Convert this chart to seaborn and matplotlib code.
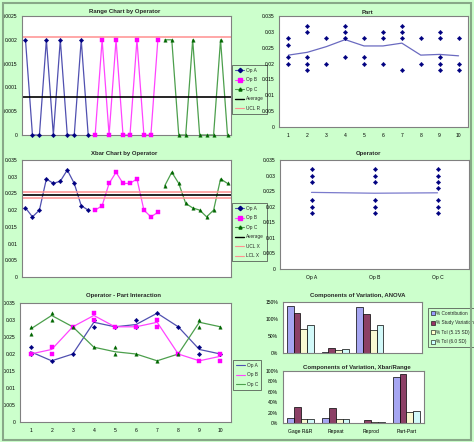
import numpy as np
import pandas as pd
import matplotlib
matplotlib.use("Agg")
import matplotlib.pyplot as plt
import seaborn as sns
from matplotlib.ticker import FuncFormatter, FixedLocator, NullFormatter
from matplotlib.lines import Line2D
from matplotlib.patches import Rectangle

# ---------------- data ----------------
parts = [1, 2, 3, 4, 5, 6, 7, 8, 9, 10]
operators = ["Op A", "Op B", "Op C"]

op_a_trial1 = [0.020, 0.018, 0.020, 0.030, 0.028, 0.028, 0.032, 0.028, 0.022, 0.020]
op_a_trial2 = [0.020, 0.018, 0.020, 0.030, 0.028, 0.028, 0.032, 0.028, 0.022, 0.020]
op_a_trial3 = [0.022, 0.018, 0.020, 0.028, 0.028, 0.030, 0.032, 0.028, 0.020, 0.020]
op_b_trial1 = [0.020, 0.022, 0.028, 0.032, 0.028, 0.028, 0.030, 0.020, 0.018, 0.020]
op_b_trial2 = [0.020, 0.022, 0.028, 0.032, 0.028, 0.028, 0.030, 0.020, 0.018, 0.020]
op_b_trial3 = [0.020, 0.020, 0.028, 0.030, 0.028, 0.028, 0.028, 0.020, 0.018, 0.018]
op_c_trial1 = [0.028, 0.032, 0.028, 0.022, 0.020, 0.020, 0.018, 0.020, 0.030, 0.028]
op_c_trial2 = [0.028, 0.032, 0.028, 0.022, 0.020, 0.020, 0.018, 0.020, 0.030, 0.028]
op_c_trial3 = [0.026, 0.030, 0.028, 0.022, 0.022, 0.020, 0.018, 0.020, 0.028, 0.028]

components = ["Gage R&R", "Repeat", "Reprod", "Part-Part"]
metrics = ["% Contribution", "% Study Variation", "% Tol (5.15 SD)", "% Tol (6.0 SD)"]
anova_contribution = [137, 2, 134]
anova_study_var = [118, 15, 116]
anova_tol_515 = [71, 10, 69]
anova_tol_60 = [83, 11, 81]
xr_contribution = [9, 9, 0.5, 88]
xr_study_var = [30, 29, 6, 94]
xr_tol_515 = [7, 7, 1, 22]
xr_tol_60 = [8, 8, 1, 24]

range_ylabels = ["0", "0.0005", "0.001", "0.0015", "0.002", "0.0025"]

# ---------------- style ----------------
sns.set_style("white")
plt.rcParams["font.family"] = ["Liberation Sans", "DejaVu Sans"]

BG = "#ccffcc"
W, H = 474, 442
fig = plt.figure(figsize=(W / 100, H / 100), dpi=100, facecolor=BG)

TICK_FS = 3.6
TITLE_FS = 4.3
LEG_FS = 3.4

line_col = {"Op A": "#5050b0", "Op B": "#ff44ff", "Op C": "#4c9f4c"}
mk_col = {"Op A": "#000080", "Op B": "#ff00ff", "Op C": "#006600"}
mk = {"Op A": "D", "Op B": "s", "Op C": "^"}
mk_s = {"Op A": 5, "Op B": 7, "Op C": 6}


def add_ax(l, t, r, b):
    ax = fig.add_axes([l / W, 1 - b / H, (r - l) / W, (b - t) / H])
    ax.set_facecolor("white")
    for s in ax.spines.values():
        s.set_color("#808080")
        s.set_linewidth(0.8)
    ax.tick_params(axis="both", labelsize=TICK_FS, length=2, width=0.5,
                   pad=1.5, direction="out", colors="black")
    ax.set_xlabel("")
    ax.set_ylabel("")
    return ax


def ftitle(x, y, s):
    fig.text(x / W, 1 - y / H, s, ha="center", va="center",
             fontsize=TITLE_FS, fontweight="bold")


def flegend(ax, handles, labels, x, y, **kw):
    leg = ax.legend(handles, labels, loc="upper left",
                    bbox_to_anchor=(x / W, 1 - y / H), bbox_transform=fig.transFigure,
                    fontsize=LEG_FS, frameon=True, fancybox=False,
                    borderpad=0.6, labelspacing=0.95, handletextpad=0.4,
                    borderaxespad=0, **kw)
    fr = leg.get_frame()
    fr.set_edgecolor("#404040")
    fr.set_linewidth(0.5)
    fr.set_facecolor(BG)
    fr.set_alpha(1)
    return leg


num_fmt = FuncFormatter(lambda v, p: "0" if abs(v) < 1e-12 else f"{v:g}")

# ---------------- derived tables ----------------
trials = {"Op A": [op_a_trial1, op_a_trial2, op_a_trial3],
          "Op B": [op_b_trial1, op_b_trial2, op_b_trial3],
          "Op C": [op_c_trial1, op_c_trial2, op_c_trial3]}
rows = []
for op in operators:
    for t, vals in enumerate(trials[op], 1):
        for p, v in zip(parts, vals):
            rows.append(dict(operator=op, part=p, trial=t, value=v))
meas = pd.DataFrame(rows)
meas["pidx"] = meas["part"] - 1
meas["oidx"] = meas["operator"].map({o: i for i, o in enumerate(operators)})

g = meas.groupby(["operator", "part"])["value"]
summ = pd.DataFrame({"xbar": g.mean(), "rng": g.max() - g.min()}).reset_index()
summ["oidx"] = summ["operator"].map({o: i for i, o in enumerate(operators)})
summ["idx"] = summ["oidx"] * 10 + summ["part"] - 1
summ["pidx"] = summ["part"] - 1

rbar = summ["rng"].mean()
ucl_r = 2.574 * rbar
xbarbar = summ["xbar"].mean()
ucl_x = xbarbar + 1.023 * rbar
lcl_x = xbarbar - 1.023 * rbar

op_handles = [Line2D([], [], color=line_col[o], lw=0.8, marker=mk[o],
                     markerfacecolor=mk_col[o], markeredgecolor=mk_col[o],
                     markersize=2.2) for o in operators]

# ---------------- P1 Range chart ----------------
ax1 = add_ax(22, 16, 231, 135)
for op in operators:
    d = summ[summ.operator == op]
    sns.lineplot(data=d, x="idx", y="rng", color=line_col[op], lw=0.9,
                 errorbar=None, ax=ax1, legend=False)
    sns.scatterplot(data=d, x="idx", y="rng", marker=mk[op], color=mk_col[op],
                    s=mk_s[op], edgecolor=mk_col[op], linewidth=0.3,
                    ax=ax1, legend=False, zorder=3, clip_on=False)
ax1.axhline(rbar, color="black", lw=1.2)
ax1.axhline(ucl_r, color="#ff9090", lw=1.1)
ax1.set_xlim(-0.5, 29.5)
ax1.set_ylim(0, 0.0025)
ax1.yaxis.set_major_locator(FixedLocator(np.arange(0, 0.00251, 0.0005)))
ax1.set_yticklabels(range_ylabels)
ax1.xaxis.set_major_locator(FixedLocator(np.arange(-0.5, 29.6, 1)))
ax1.xaxis.set_major_formatter(NullFormatter())
ax1.set_xlabel(""); ax1.set_ylabel("")
ftitle(125, 12, "Range Chart by Operator")
flegend(ax1, op_handles + [Line2D([], [], color="black", lw=1.0),
                           Line2D([], [], color="#ff9090", lw=0.8)],
        operators + ["Average", "UCL R"], 232, 65, handlelength=2.0)

# ---------------- P2 Part ----------------
ax2 = add_ax(279, 16, 468, 127)
pdots = meas.drop_duplicates(["part", "value"])
sns.scatterplot(data=pdots, x="pidx", y="value", marker="D", color="#000080",
                s=5, edgecolor="#000080", linewidth=0.3, ax=ax2, legend=False, zorder=3)
pmean = meas.groupby("pidx")["value"].mean().reset_index()
sns.lineplot(data=pmean, x="pidx", y="value", color="#6a6ac0", lw=0.9,
             errorbar=None, ax=ax2, legend=False)
ax2.set_xlim(-0.5, 9.5)
ax2.set_ylim(0, 0.035)
ax2.yaxis.set_major_locator(FixedLocator(np.arange(0, 0.0351, 0.005)))
ax2.yaxis.set_major_formatter(num_fmt)
ax2.xaxis.set_major_locator(FixedLocator(range(10)))
ax2.set_xticklabels([str(p) for p in parts])
ax2.xaxis.set_minor_locator(FixedLocator(np.arange(-0.5, 9.6, 1)))
ax2.tick_params(axis="x", which="major", length=0, pad=4)
ax2.tick_params(axis="x", which="minor", length=2, width=0.5)
ax2.set_xlabel(""); ax2.set_ylabel("")
ftitle(367, 12, "Part")

# ---------------- P3 Xbar chart ----------------
ax3 = add_ax(22, 160, 231, 277)
for op in operators:
    d = summ[summ.operator == op]
    sns.lineplot(data=d, x="idx", y="xbar", color=line_col[op], lw=0.9,
                 errorbar=None, ax=ax3, legend=False)
    sns.scatterplot(data=d, x="idx", y="xbar", marker=mk[op], color=mk_col[op],
                    s=mk_s[op], edgecolor=mk_col[op], linewidth=0.3,
                    ax=ax3, legend=False, zorder=3)
ax3.axhline(xbarbar, color="black", lw=1.2)
ax3.axhline(ucl_x, color="#ff9090", lw=1.1)
ax3.axhline(lcl_x, color="#ff9090", lw=1.1)
ax3.set_xlim(-0.5, 29.5)
ax3.set_ylim(0, 0.035)
ax3.yaxis.set_major_locator(FixedLocator(np.arange(0, 0.0351, 0.005)))
ax3.yaxis.set_major_formatter(num_fmt)
ax3.xaxis.set_major_locator(FixedLocator(np.arange(-0.5, 29.6, 1)))
ax3.xaxis.set_major_formatter(NullFormatter())
ax3.set_xlabel(""); ax3.set_ylabel("")
ftitle(124, 154, "Xbar Chart by Operator")
flegend(ax3, op_handles + [Line2D([], [], color="black", lw=1.0),
                           Line2D([], [], color="#ff9090", lw=0.8),
                           Line2D([], [], color="#ff9090", lw=0.8)],
        operators + ["Average", "UCL X", "LCL X"], 232, 203, handlelength=2.0)

# ---------------- P4 Operator ----------------
ax4 = add_ax(280, 160, 469, 269)
odots = meas.drop_duplicates(["operator", "value"])
sns.scatterplot(data=odots, x="oidx", y="value", marker="D", color="#000080",
                s=5, edgecolor="#000080", linewidth=0.3, ax=ax4, legend=False, zorder=3)
omean = meas.groupby("oidx")["value"].mean().reset_index()
sns.lineplot(data=omean, x="oidx", y="value", color="#7a7acc", lw=0.9,
             errorbar=None, ax=ax4, legend=False)
ax4.set_xlim(-0.5, 2.5)
ax4.set_ylim(0, 0.035)
ax4.yaxis.set_major_locator(FixedLocator(np.arange(0, 0.0351, 0.005)))
ax4.yaxis.set_major_formatter(num_fmt)
ax4.xaxis.set_major_locator(FixedLocator(range(3)))
ax4.set_xticklabels(operators)
ax4.xaxis.set_minor_locator(FixedLocator(np.arange(-0.5, 2.6, 1)))
ax4.tick_params(axis="x", which="major", length=0, pad=4)
ax4.tick_params(axis="x", which="minor", length=2, width=0.5)
ax4.set_xlabel(""); ax4.set_ylabel("")
ftitle(369, 154, "Operator")

# ---------------- P5 Interaction ----------------
ax5 = add_ax(20, 303, 231, 422)
for op in operators:
    d = summ[summ.operator == op]
    sns.lineplot(data=d, x="pidx", y="xbar", color=line_col[op], lw=0.9,
                 errorbar=None, ax=ax5, legend=False)
for op in operators:
    dd = meas[meas.operator == op].drop_duplicates(["part", "value"])
    sns.scatterplot(data=dd, x="pidx", y="value", marker=mk[op], color=mk_col[op],
                    s=mk_s[op], edgecolor=mk_col[op], linewidth=0.3,
                    ax=ax5, legend=False, zorder=3)
ax5.set_xlim(-0.5, 9.5)
ax5.set_ylim(0, 0.035)
ax5.yaxis.set_major_locator(FixedLocator(np.arange(0, 0.0351, 0.005)))
ax5.yaxis.set_major_formatter(num_fmt)
ax5.xaxis.set_major_locator(FixedLocator(range(10)))
ax5.set_xticklabels([str(p) for p in parts])
ax5.xaxis.set_minor_locator(FixedLocator(np.arange(-0.5, 9.6, 1)))
ax5.tick_params(axis="x", which="major", length=0, pad=4)
ax5.tick_params(axis="x", which="minor", length=2, width=0.5)
ax5.set_xlabel(""); ax5.set_ylabel("")
ftitle(123, 296, "Operator - Part Interaction")
flegend(ax5, [Line2D([], [], color=line_col[o], lw=0.8) for o in operators],
        operators, 233, 360, handlelength=2.0)

# ---------------- P6 / P7 bar charts ----------------
bar_cols = ["#9999ff", "#993366", "#ffffcc", "#ccffff"]


def bars_df(comps, series):
    rr = []
    for m, vals in zip(metrics, series):
        for c, v in zip(comps, vals):
            rr.append(dict(component=c, metric=m, value=v))
    return pd.DataFrame(rr)


ax6 = add_ax(283, 302, 422, 353)
df6 = bars_df(components[:3], [anova_contribution, anova_study_var, anova_tol_515, anova_tol_60])
sns.barplot(data=df6, x="component", y="value", hue="metric", order=components,
            hue_order=metrics, palette=bar_cols, edgecolor="black", linewidth=0.5,
            width=0.77, errorbar=None, ax=ax6, legend=False)
ax6.set_xlim(-0.5, 3.5)
ax6.set_ylim(0, 150)
ax6.yaxis.set_major_locator(FixedLocator([0, 50, 100, 150]))
ax6.yaxis.set_major_formatter(FuncFormatter(lambda v, p: f"{v:.0f}%"))
ax6.xaxis.set_major_locator(FixedLocator(np.arange(-0.5, 3.6, 1)))
ax6.xaxis.set_major_formatter(NullFormatter())
ax6.set_xlabel(""); ax6.set_ylabel("")
ftitle(358, 296, "Components of Variation, ANOVA")

ax7 = add_ax(283, 371, 424, 423)
df7 = bars_df(components, [xr_contribution, xr_study_var, xr_tol_515, xr_tol_60])
sns.barplot(data=df7, x="component", y="value", hue="metric", order=components,
            hue_order=metrics, palette=bar_cols, edgecolor="black", linewidth=0.5,
            width=0.77, errorbar=None, ax=ax7, legend=False)
ax7.set_xlim(-0.5, 3.5)
ax7.set_ylim(0, 100)
ax7.yaxis.set_major_locator(FixedLocator([0, 20, 40, 60, 80, 100]))
ax7.yaxis.set_major_formatter(FuncFormatter(lambda v, p: f"{v:.0f}%"))
ax7.xaxis.set_major_locator(FixedLocator(range(4)))
ax7.set_xticklabels(components)
ax7.xaxis.set_minor_locator(FixedLocator(np.arange(-0.5, 3.6, 1)))
ax7.tick_params(axis="x", which="major", length=0, pad=4)
ax7.tick_params(axis="x", which="minor", length=2, width=0.5)
ax7.set_xlabel(""); ax7.set_ylabel("")
ftitle(357, 367, "Components of Variation, Xbar/Range")

bar_handles = [Line2D([], [], ls="none", marker="s", markersize=2.6,
                      markerfacecolor=c, markeredgecolor="black", markeredgewidth=0.4)
               for c in bar_cols]
flegend(ax6, bar_handles, metrics, 428, 308, handlelength=0.8)

# ---------------- outer frame ----------------
fig.patches.append(Rectangle((3 / W, 2 / H), 468 / W, 437 / H, transform=fig.transFigure,
                             fill=False, edgecolor="#88a888", lw=1.5))

fig.savefig("out.png", dpi=100, facecolor=BG)
